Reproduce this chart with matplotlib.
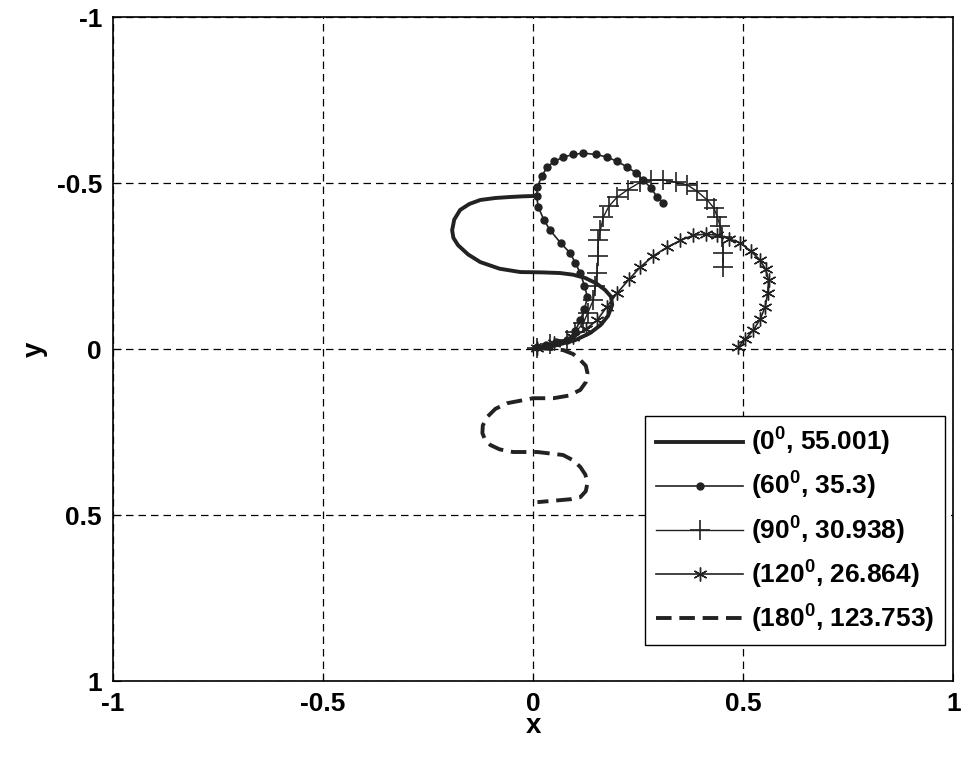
import numpy as np
import matplotlib.pyplot as plt

x0 = [0.0, 0.05, 0.10, 0.135, 0.16, 0.178, 0.188, 0.185, 0.171, 0.15, 0.124, 0.095, 0.064, 0.02, -0.031, -0.08, -0.126, -0.155, -0.179, -0.19, -0.193, -0.188, -0.174, -0.152, -0.126, -0.09, -0.055, -0.025, 0.0]
y0 = [0.0, -0.01, -0.027, -0.048, -0.072, -0.1, -0.133, -0.158, -0.178, -0.198, -0.214, -0.224, -0.229, -0.231, -0.232, -0.242, -0.262, -0.285, -0.313, -0.335, -0.358, -0.39, -0.419, -0.437, -0.449, -0.455, -0.458, -0.46, -0.461]

x60 = [0.01, 0.03, 0.055, 0.081, 0.1, 0.112, 0.122, 0.129, 0.122, 0.112, 0.1, 0.088, 0.065, 0.040, 0.025, 0.012, 0.008, 0.01, 0.02, 0.033, 0.05, 0.071, 0.095, 0.119, 0.15, 0.176, 0.2, 0.224, 0.245, 0.262, 0.28, 0.295, 0.31]
y60 = [-0.006, -0.012, -0.02, -0.027, -0.055, -0.087, -0.12, -0.157, -0.19, -0.229, -0.26, -0.289, -0.32, -0.358, -0.39, -0.428, -0.46, -0.488, -0.52, -0.548, -0.565, -0.578, -0.586, -0.590, -0.586, -0.578, -0.565, -0.548, -0.53, -0.509, -0.485, -0.458, -0.44]

x90 = [0.01, 0.04, 0.081, 0.1, 0.119, 0.13, 0.143, 0.148, 0.152, 0.154, 0.155, 0.16, 0.167, 0.18, 0.200, 0.225, 0.255, 0.28, 0.310, 0.34, 0.367, 0.39, 0.414, 0.43, 0.438, 0.445, 0.450, 0.452, 0.452]
y90 = [-0.003, -0.015, -0.027, -0.05, -0.078, -0.11, -0.148, -0.19, -0.229, -0.28, -0.328, -0.36, -0.398, -0.43, -0.458, -0.48, -0.503, -0.508, -0.509, -0.503, -0.494, -0.475, -0.449, -0.425, -0.398, -0.37, -0.337, -0.29, -0.247]

x120 = [0.01, 0.05, 0.095, 0.125, 0.152, 0.175, 0.2, 0.228, 0.255, 0.285, 0.319, 0.35, 0.381, 0.41, 0.438, 0.465, 0.493, 0.518, 0.540, 0.553, 0.560, 0.558, 0.552, 0.54, 0.524, 0.505, 0.488]
y120 = [-0.003, -0.018, -0.036, -0.06, -0.087, -0.127, -0.169, -0.21, -0.247, -0.28, -0.307, -0.327, -0.343, -0.346, -0.343, -0.333, -0.319, -0.295, -0.268, -0.24, -0.208, -0.168, -0.127, -0.09, -0.057, -0.03, -0.006]

x180 = [0.01, 0.045, 0.071, 0.095, 0.112, 0.125, 0.129, 0.125, 0.112, 0.085, 0.048, 0.0, -0.062, -0.09, -0.110, -0.12, -0.121, -0.115, -0.102, -0.08, -0.048, 0.01, 0.071, 0.095, 0.112, 0.124, 0.129, 0.125, 0.112, 0.09, 0.064, 0.01]
y180 = [-0.003, 0.0, 0.003, 0.015, 0.033, 0.05, 0.072, 0.1, 0.123, 0.14, 0.148, 0.148, 0.163, 0.18, 0.205, 0.23, 0.253, 0.272, 0.289, 0.302, 0.310, 0.310, 0.319, 0.335, 0.355, 0.378, 0.404, 0.428, 0.446, 0.452, 0.455, 0.461]

labels = [r'(0$^{\mathbf{0}}$, 55.001)', r'(60$^{\mathbf{0}}$, 35.3)', r'(90$^{\mathbf{0}}$, 30.938)',
          r'(120$^{\mathbf{0}}$, 26.864)', r'(180$^{\mathbf{0}}$, 123.753)']

plt.rcParams['font.family'] = ['Liberation Sans', 'DejaVu Sans']
plt.rcParams['font.weight'] = 'bold'
plt.rcParams['mathtext.fontset'] = 'custom'
plt.rcParams['mathtext.bf'] = 'Liberation Sans:bold'
plt.rcParams['mathtext.default'] = 'bf'
fig = plt.figure(figsize=(9.66, 7.74), dpi=100)
ax = fig.add_axes([0.117, 0.12, 0.87, 0.858])
c = '#222222'
ax.plot(x0, y0, '-', color=c, lw=2.8, label=labels[0])
ax.plot(x60, y60, '-', color=c, lw=1.2, marker='o', ms=5, label=labels[1])
ax.plot(x90, y90, '-', color=c, lw=1.0, marker='+', ms=14, mew=1.2, label=labels[2])
ax.plot(x120, y120, '-', color=c, lw=1.2, marker=(6, 2, 0), ms=10, mew=1.0, label=labels[3])
ax.plot(x180, y180, '--', color=c, lw=2.8, dashes=(4, 2), label=labels[4])

ax.set_xlim(-1, 1)
ax.set_ylim(1, -1)
ax.set_xticks([-1, -0.5, 0, 0.5, 1])
ax.set_yticks([-1, -0.5, 0, 0.5, 1])
ax.set_xticklabels(['-1', '-0.5', '0', '0.5', '1'])
ax.set_yticklabels(['-1', '-0.5', '0', '0.5', '1'])
ax.tick_params(labelsize=19, direction='in', length=6, pad=8)
ax.grid(True, color='black', ls=(0, (6, 4)), lw=0.9)
for s in ax.spines.values():
    s.set_linewidth(1.2)
ax.set_xlabel('x', fontsize=20, fontweight='bold', labelpad=-2)
ax.set_ylabel('y', fontsize=20, fontweight='bold', labelpad=6)
leg = ax.legend(loc='lower right', bbox_to_anchor=(0.99, 0.054), fontsize=19, fancybox=False,
                edgecolor='black', framealpha=1, handlelength=3.3, borderaxespad=0,
                labelspacing=0.45, handletextpad=0.3)
leg.get_frame().set_linewidth(1.0)
fig.savefig('out.png')
